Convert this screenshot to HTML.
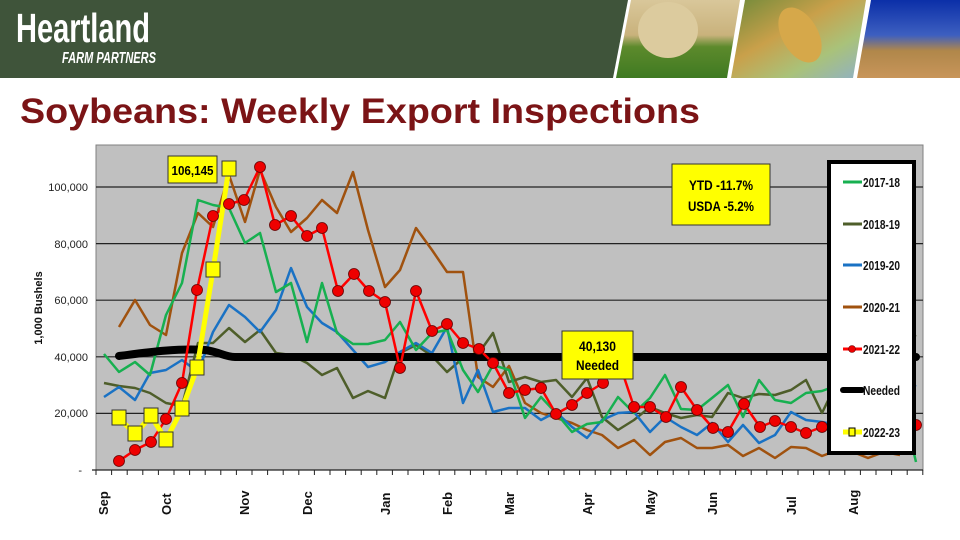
<!DOCTYPE html>
<html><head><meta charset="utf-8"><style>
html,body{margin:0;padding:0;background:#fff;}
svg{display:block;font-family:"Liberation Sans",sans-serif;}
</style></head><body>
<svg width="960" height="540" viewBox="0 0 960 540" xmlns="http://www.w3.org/2000/svg">
<defs>
<linearGradient id="cow" x1="0" y1="0" x2="0" y2="1"><stop offset="0" stop-color="#d9c79a"/><stop offset="0.45" stop-color="#c9b27c"/><stop offset="0.6" stop-color="#5d8a2c"/><stop offset="1" stop-color="#3f7a22"/></linearGradient>
<linearGradient id="corn" x1="0" y1="0" x2="1" y2="1"><stop offset="0" stop-color="#6f8a3a"/><stop offset="0.4" stop-color="#c9a04a"/><stop offset="0.7" stop-color="#a9c27a"/><stop offset="1" stop-color="#8fb0c8"/></linearGradient>
<linearGradient id="soy" x1="0" y1="0" x2="0" y2="1"><stop offset="0" stop-color="#0b2fa8"/><stop offset="0.45" stop-color="#3d5fc0"/><stop offset="0.65" stop-color="#b0874a"/><stop offset="1" stop-color="#c8955a"/></linearGradient>
</defs>
<rect x="0" y="0" width="960" height="78" fill="#fff"/>
<polygon points="0,0 628,0 613,78 0,78" fill="#3f543a"/>
<polygon points="631,0 740,0 727,78 616,78" fill="url(#cow)"/>
<ellipse cx="668" cy="30" rx="30" ry="28" fill="#dccb9e"/>
<polygon points="745,0 866,0 853,78 731,78" fill="url(#corn)"/>
<ellipse cx="800" cy="35" rx="18" ry="30" fill="#d6a84a" transform="rotate(-30 800 35)"/>
<polygon points="871,0 960,0 960,78 857,78" fill="url(#soy)"/>
<text x="16" y="42" font-size="41" font-weight="bold" fill="#fff" textLength="134" lengthAdjust="spacingAndGlyphs">Heartland</text>
<text x="62" y="63" font-size="16" font-weight="bold" font-style="italic" fill="#fff" textLength="94" lengthAdjust="spacingAndGlyphs">FARM PARTNERS</text>
<text x="20" y="123" font-size="35" font-weight="bold" fill="#7b1416" textLength="680" lengthAdjust="spacingAndGlyphs">Soybeans:  Weekly Export Inspections</text>
<rect x="96" y="145" width="827" height="325" fill="#c0c0c0" stroke="#808080" stroke-width="1"/>
<g stroke="#222" stroke-width="1.2">
<line x1="96" y1="187" x2="923" y2="187"/><line x1="96" y1="243.6" x2="923" y2="243.6"/><line x1="96" y1="300.2" x2="923" y2="300.2"/><line x1="96" y1="356.8" x2="923" y2="356.8"/><line x1="96" y1="413.4" x2="923" y2="413.4"/>
<line x1="92" y1="470" x2="923" y2="470"/>
</g>
<g font-size="11" fill="#222" text-anchor="end">
<text x="88" y="191">100,000</text><text x="88" y="248">80,000</text><text x="88" y="304">60,000</text><text x="88" y="361">40,000</text><text x="88" y="417">20,000</text><text x="82" y="474">-</text>
</g>
<text transform="translate(42,308) rotate(-90)" font-size="11" font-weight="bold" fill="#111" text-anchor="middle">1,000 Bushels</text>
<path stroke="#222" stroke-width="1" d="M96,470v5M111.6,470v5M127.2,470v5M142.8,470v5M158.4,470v5M174,470v5M189.6,470v5M205.2,470v5M220.8,470v5M236.4,470v5M252,470v5M267.6,470v5M283.2,470v5M298.8,470v5M314.4,470v5M330,470v5M345.6,470v5M361.2,470v5M376.8,470v5M392.4,470v5M408,470v5M423.6,470v5M439.2,470v5M454.8,470v5M470.4,470v5M486,470v5M501.6,470v5M517.2,470v5M532.8,470v5M548.4,470v5M564,470v5M579.6,470v5M595.2,470v5M610.8,470v5M626.4,470v5M642,470v5M657.6,470v5M673.2,470v5M688.8,470v5M704.4,470v5M720,470v5M735.6,470v5M751.2,470v5M766.8,470v5M782.4,470v5M798,470v5M813.6,470v5M829.2,470v5M844.8,470v5M860.4,470v5M876,470v5M891.6,470v5M907.2,470v5M922.8,470v5"/>
<g font-size="13" font-weight="bold" fill="#111">
<text transform="translate(108,515) rotate(-90)">Sep</text>
<text transform="translate(171,515) rotate(-90)">Oct</text>
<text transform="translate(249,515) rotate(-90)">Nov</text>
<text transform="translate(312,515) rotate(-90)">Dec</text>
<text transform="translate(390,515) rotate(-90)">Jan</text>
<text transform="translate(452,515) rotate(-90)">Feb</text>
<text transform="translate(514,515) rotate(-90)">Mar</text>
<text transform="translate(592,515) rotate(-90)">Apr</text>
<text transform="translate(655,515) rotate(-90)">May</text>
<text transform="translate(717,515) rotate(-90)">Jun</text>
<text transform="translate(796,515) rotate(-90)">Jul</text>
<text transform="translate(858,515) rotate(-90)">Aug</text>
</g>
<g fill="none" stroke-width="2.5" stroke-linejoin="round">
<polyline stroke="#a0520f" points="119,327 135,300 150,325 166,335 182,253 198,213 213,227 229,175 245,222 260,170 276,207 291,232 307,218 322,200 337,213 353,172 368,230 385,287 400,270 416,228 432,250 447,272 463,272 478,377 493,387 509,366 525,403 541,413 556,418 572,423 587,430 602,435 618,448 634,440 650,455 665,442 681,438 697,448 712,448 728,445 743,456 759,448 775,458 791,447 806,448 822,456 838,450 853,452 868,458 884,452 900,455"/>
<polyline stroke="#4e5e2a" points="104,383 119,386 135,388 150,393 166,403 182,406 198,343 213,343 229,328 245,342 260,330 276,353 291,355 307,363 322,375 337,368 353,398 368,391 385,398 400,353 416,345 432,356 447,372 463,358 478,354 493,333 509,382 525,377 541,382 556,380 572,397 587,378 602,417 618,430 634,420 650,407 665,413 681,418 697,415 712,417 728,393 743,398 759,394 775,395 791,390 806,380 822,413 838,380 853,360 869,355 884,350 900,345 916,335"/>
<polyline stroke="#1a72c4" points="104,397 119,387 135,400 150,373 166,370 182,360 198,372 213,332 229,305 245,317 260,332 276,310 291,268 307,307 322,323 337,332 353,350 368,367 385,362 400,352 416,343 432,353 447,327 463,403 478,370 493,412 509,408 525,408 541,420 556,412 572,427 587,438 602,420 618,413 634,412 650,432 665,417 681,427 697,435 712,423 728,442 743,425 759,443 775,435 791,412 806,420 822,422 838,425 853,420 869,415 884,400 900,395 916,385"/>
<polyline stroke="#17b050" points="104,354 119,372 135,362 150,375 166,315 182,283 198,200 213,205 229,208 245,243 260,233 276,292 291,283 307,342 322,283 337,333 353,344 368,344 385,340 400,322 416,350 432,333 447,330 463,370 478,392 493,365 509,370 525,418 541,397 556,413 572,432 587,424 602,422 618,397 634,413 650,398 665,375 681,409 697,410 712,398 728,385 743,417 759,380 775,400 791,403 806,393 822,391 838,385 853,380 869,380 884,385 900,395 916,462"/>
<path d="M119,356 C150,352 180,348 205,350 C220,352 225,357 235,357 L916,357" stroke="#000" stroke-width="8" stroke-linecap="round"/>
<polyline stroke="#ff0000" points="119,461 135,450 151,442 166,419 182,383 197,290 213,216 229,204 244,200 260,167 275,225 291,216 307,236 322,228 338,291 354,274 369,291 385,302 400,368 416,291 432,331 447,324 463,343 479,349 493,363 509,393 525,390 541,388 556,414 572,405 587,393 603,383 619,362 634,407 650,407 666,417 681,387 697,410 713,428 728,432 744,404 760,427 775,421 791,427 806,433 822,427 838,422 853,424 869,423 884,425 900,425 916,425"/>
<polyline stroke="#ffff00" stroke-width="5" points="119,418 135,434 151,416 166,440 182,409 197,368 213,270 229,168"/>
</g>
<g fill="#ee0000" stroke="#600" stroke-width="0.8">
<circle cx="119" cy="461" r="5.5"/><circle cx="135" cy="450" r="5.5"/><circle cx="151" cy="442" r="5.5"/><circle cx="166" cy="419" r="5.5"/><circle cx="182" cy="383" r="5.5"/><circle cx="197" cy="290" r="5.5"/><circle cx="213" cy="216" r="5.5"/><circle cx="229" cy="204" r="5.5"/><circle cx="244" cy="200" r="5.5"/><circle cx="260" cy="167" r="5.5"/><circle cx="275" cy="225" r="5.5"/><circle cx="291" cy="216" r="5.5"/><circle cx="307" cy="236" r="5.5"/><circle cx="322" cy="228" r="5.5"/><circle cx="338" cy="291" r="5.5"/><circle cx="354" cy="274" r="5.5"/><circle cx="369" cy="291" r="5.5"/><circle cx="385" cy="302" r="5.5"/><circle cx="400" cy="368" r="5.5"/><circle cx="416" cy="291" r="5.5"/><circle cx="432" cy="331" r="5.5"/><circle cx="447" cy="324" r="5.5"/><circle cx="463" cy="343" r="5.5"/><circle cx="479" cy="349" r="5.5"/><circle cx="493" cy="363" r="5.5"/><circle cx="509" cy="393" r="5.5"/><circle cx="525" cy="390" r="5.5"/><circle cx="541" cy="388" r="5.5"/><circle cx="556" cy="414" r="5.5"/><circle cx="572" cy="405" r="5.5"/><circle cx="587" cy="393" r="5.5"/><circle cx="603" cy="383" r="5.5"/><circle cx="634" cy="407" r="5.5"/><circle cx="650" cy="407" r="5.5"/><circle cx="666" cy="417" r="5.5"/><circle cx="681" cy="387" r="5.5"/><circle cx="697" cy="410" r="5.5"/><circle cx="713" cy="428" r="5.5"/><circle cx="728" cy="432" r="5.5"/><circle cx="744" cy="404" r="5.5"/><circle cx="760" cy="427" r="5.5"/><circle cx="775" cy="421" r="5.5"/><circle cx="791" cy="427" r="5.5"/><circle cx="806" cy="433" r="5.5"/><circle cx="822" cy="427" r="5.5"/><circle cx="916" cy="425" r="5.5"/>
</g>
<g fill="#ffff00" stroke="#333" stroke-width="1">
<rect x="112" y="410" width="14" height="15"/><rect x="128" y="426" width="14" height="15"/><rect x="144" y="408" width="14" height="15"/><rect x="159" y="432" width="14" height="15"/><rect x="175" y="401" width="14" height="15"/><rect x="190" y="360" width="14" height="15"/><rect x="206" y="262" width="14" height="15"/><rect x="222" y="161" width="14" height="15"/>
</g>
<rect x="168" y="156" width="49" height="27" fill="#ffff00" stroke="#333"/>
<text x="192.5" y="175" font-size="13" font-weight="bold" text-anchor="middle" textLength="42" lengthAdjust="spacingAndGlyphs">106,145</text>
<rect x="672" y="164" width="98" height="61" fill="#ffff00" stroke="#333"/>
<text x="721" y="190" font-size="14" font-weight="bold" text-anchor="middle" textLength="64" lengthAdjust="spacingAndGlyphs">YTD -11.7%</text>
<text x="721" y="211" font-size="14" font-weight="bold" text-anchor="middle" textLength="66" lengthAdjust="spacingAndGlyphs">USDA -5.2%</text>
<rect x="562" y="331" width="71" height="48" fill="#ffff00" stroke="#333"/>
<text x="597.5" y="351" font-size="14" font-weight="bold" text-anchor="middle" textLength="37" lengthAdjust="spacingAndGlyphs">40,130</text>
<text x="597.5" y="370" font-size="14" font-weight="bold" text-anchor="middle" textLength="43" lengthAdjust="spacingAndGlyphs">Needed</text>
<rect x="829" y="162" width="85" height="291" fill="#fff" stroke="#000" stroke-width="4"/>
<g stroke-width="3">
<line x1="843" y1="182" x2="862" y2="182" stroke="#17b050"/>
<line x1="843" y1="224" x2="862" y2="224" stroke="#4e5e2a"/>
<line x1="843" y1="265" x2="862" y2="265" stroke="#1a72c4"/>
<line x1="843" y1="307" x2="862" y2="307" stroke="#a0520f"/>
<line x1="843" y1="349" x2="862" y2="349" stroke="#ff0000"/>
<line x1="843" y1="390" x2="862" y2="390" stroke="#000" stroke-width="6" stroke-linecap="round"/>
<line x1="843" y1="432" x2="862" y2="432" stroke="#ffff00" stroke-width="5"/>
</g>
<circle cx="852" cy="349" r="3.5" fill="#e00" stroke="#600" stroke-width="0.6"/>
<rect x="849" y="428" width="6" height="8" fill="#ffff00" stroke="#000" stroke-width="1"/>
<g font-size="13" fill="#111" font-weight="bold">
<text x="863" y="187" textLength="37" lengthAdjust="spacingAndGlyphs">2017-18</text>
<text x="863" y="229" textLength="37" lengthAdjust="spacingAndGlyphs">2018-19</text>
<text x="863" y="270" textLength="37" lengthAdjust="spacingAndGlyphs">2019-20</text>
<text x="863" y="312" textLength="37" lengthAdjust="spacingAndGlyphs">2020-21</text>
<text x="863" y="354" textLength="37" lengthAdjust="spacingAndGlyphs">2021-22</text>
<text x="863" y="395" textLength="37" lengthAdjust="spacingAndGlyphs">Needed</text>
<text x="863" y="437" textLength="37" lengthAdjust="spacingAndGlyphs">2022-23</text>
</g>
</svg>
</body></html>
